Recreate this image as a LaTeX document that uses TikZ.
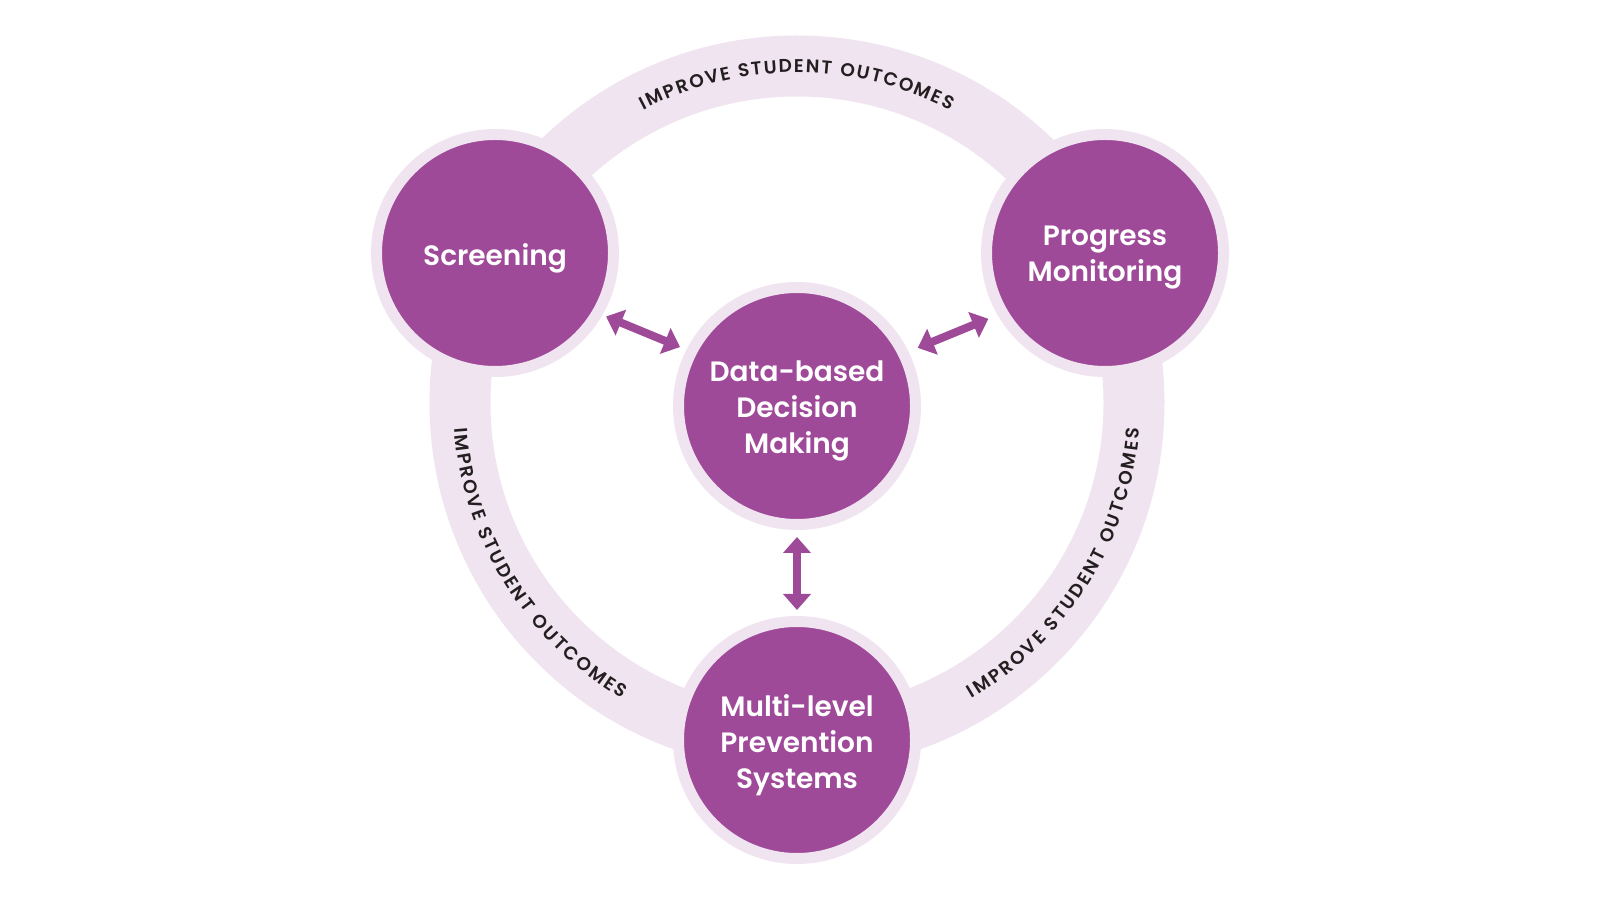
\documentclass[tikz,border=0pt]{standalone}
\usepackage{fontspec}
\setmainfont{Poppins}
\newfontfamily\nodefont{Poppins SemiBold}
\newfontfamily\ringfont{Poppins SemiBold}
\usetikzlibrary{arrows.meta,decorations.text}
\definecolor{plum}{HTML}{9E4A99}
\definecolor{lilac}{HTML}{F0E4F0}
\definecolor{ink}{HTML}{231F20}
\begin{document}
\begin{tikzpicture}[x=1pt,y=1pt,
  stage/.style={circle, fill=plum, draw=lilac, line width=11pt, minimum size=237pt,
    inner sep=0pt},
  stagetext/.style={align=center, text=white, inner sep=0pt,
    font=\nodefont\fontsize{28}{36}\selectfont},
  link/.style={draw=plum, line width=8pt,
    {Triangle[width=27pt,length=16pt]}-{Triangle[width=27pt,length=16pt]}},
  ringtext/.style={decorate, decoration={text along path,
    text={|\ringfont\fontsize{18.5}{20}\selectfont|IMPROVE STUDENT OUTCOMES},
    text color=ink, text align={fit to path}, raise=-6.5pt}}
]
\useasboundingbox[fill=white] (0,0) rectangle (1600,900);
\coordinate (rc) at (797,497);
% big ring
\draw[lilac, line width=61pt] (rc) circle[radius=337pt];
% ring labels
\path[ringtext] ([shift={(117.6:337pt)}]rc) arc[start angle=117.6, end angle=62.4, radius=337pt];
\path[ringtext] ([shift={(184.2:337pt)}]rc) arc[start angle=184.2, end angle=239.4, radius=337pt];
\path[ringtext] ([shift={(300.6:337pt)}]rc) arc[start angle=300.6, end angle=355.8, radius=337pt];
% stages
\node[stage] (scr) at (495,647) {};
\node[stage] (pm)  at (1105,647) {};
\node[stage] (ctr) at (797,494) {};
\node[stage] (mlp) at (797,160) {};
\node[stagetext] (scrt) at ([yshift=-5pt]scr) {Screening};
\node[stagetext] (pmt)  at ([yshift=-5pt]pm)  {Progress\\Monitoring};
\node[stagetext] (ctrt) at ([yshift=-5pt]ctr) {Data-based\\Decision\\Making};
\node[stagetext] (mlpt) at ([yshift=-5pt]mlp) {Multi-level\\Prevention\\Systems};
% links
\draw[link, shorten <=4pt, shorten >=7pt] (scr.-30.6) -- (ctr.153.8);
\draw[link, shorten <=10pt, shorten >=10pt] (ctr.26.4) -- (pm.210);
\draw[link, shorten <=7pt, shorten >=6pt] (ctr) -- (mlp);
\end{tikzpicture}
\end{document}
